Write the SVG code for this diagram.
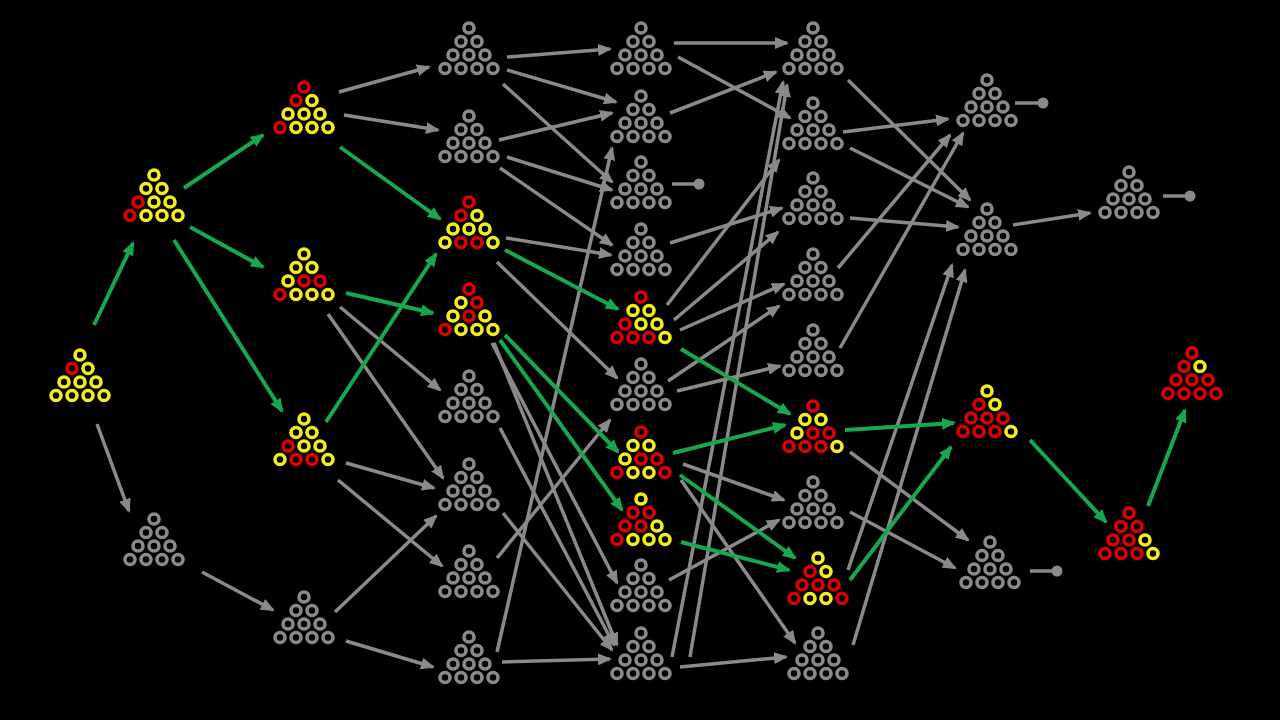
<svg xmlns="http://www.w3.org/2000/svg" xmlns:xlink="http://www.w3.org/1999/xlink" width="1280" height="720" viewBox="0 0 1280 720">
<style>
circle{fill:none;stroke-width:3.6}
.g{stroke:#8a8a8a}.y{stroke:#f4ee1a}.r{stroke:#dc0000}
.eg{stroke:#8a8a8a;stroke-width:3.5;fill:none}
.ee{stroke:#17a84f;stroke-width:4;fill:none}
.dot{fill:#8a8a8a}
</style>
<defs>
<marker id="ag" markerWidth="14" markerHeight="12" refX="12" refY="6" orient="auto" markerUnits="userSpaceOnUse"><path d="M0,0L14,6L0,12z" fill="#8a8a8a"/></marker>
<marker id="ae" markerWidth="14" markerHeight="12" refX="12" refY="6" orient="auto" markerUnits="userSpaceOnUse"><path d="M0,0L14,6L0,12z" fill="#17a84f"/></marker>
<g id="tri">
<circle class="g" cx="0" cy="0" r="5"/><circle class="g" cx="-8" cy="13.5" r="5"/><circle class="g" cx="8" cy="13.5" r="5"/><circle class="g" cx="-16" cy="27" r="5"/><circle class="g" cx="0" cy="27" r="5"/><circle class="g" cx="16" cy="27" r="5"/><circle class="g" cx="-24" cy="40.5" r="5"/><circle class="g" cx="-8" cy="40.5" r="5"/><circle class="g" cx="8" cy="40.5" r="5"/><circle class="g" cx="24" cy="40.5" r="5"/>
</g>
</defs>
<rect width="1280" height="720" fill="#000"/>
<g id="connectors">
<g marker-end="url(#ag)" class="eg">
<line x1="97" y1="424" x2="129" y2="511"/>
<line x1="202" y1="572" x2="273" y2="610"/>
<line x1="335" y1="612" x2="436" y2="516"/>
<line x1="346" y1="641" x2="433" y2="667"/>
<line x1="339" y1="92" x2="429" y2="67"/>
<line x1="344" y1="115" x2="438" y2="130"/>
<line x1="340" y1="307" x2="440" y2="390"/>
<line x1="328" y1="314" x2="443" y2="478"/>
<line x1="346" y1="463" x2="434" y2="488"/>
<line x1="338" y1="480" x2="442" y2="566"/>
<line x1="507" y1="57" x2="610" y2="49"/>
<line x1="507" y1="70" x2="616" y2="102"/>
<line x1="503" y1="84" x2="612" y2="182"/>
<line x1="499" y1="140" x2="612" y2="113"/>
<line x1="507" y1="157" x2="612" y2="190"/>
<line x1="500" y1="168" x2="612" y2="245"/>
<line x1="506" y1="238" x2="611" y2="255"/>
<line x1="497" y1="262" x2="617" y2="378"/>
<line x1="492" y1="343" x2="617" y2="583"/>
<line x1="494" y1="343" x2="617" y2="645"/>
<line x1="500" y1="428" x2="614" y2="645"/>
<line x1="497" y1="558" x2="610" y2="420"/>
<line x1="503" y1="513" x2="612" y2="650"/>
<line x1="497" y1="652" x2="612" y2="148"/>
<line x1="502" y1="662" x2="610" y2="659"/>
<line x1="674" y1="43" x2="787" y2="43"/>
<line x1="678" y1="57" x2="790" y2="118"/>
<line x1="670" y1="113" x2="776" y2="72"/>
<line x1="670" y1="243" x2="782" y2="208"/>
<line x1="667" y1="305" x2="779" y2="160"/>
<line x1="674" y1="320" x2="778" y2="232"/>
<line x1="680" y1="330" x2="784" y2="284"/>
<line x1="668" y1="381" x2="779" y2="306"/>
<line x1="677" y1="391" x2="780" y2="366"/>
<line x1="683" y1="464" x2="784" y2="500"/>
<line x1="669" y1="580" x2="779" y2="520"/>
<line x1="680" y1="667" x2="786" y2="657"/>
<line x1="681" y1="480" x2="795" y2="643"/>
<line x1="672" y1="657" x2="783" y2="82"/>
<line x1="690" y1="657" x2="787" y2="85"/>
<line x1="843" y1="132" x2="948" y2="119"/>
<line x1="850" y1="148" x2="968" y2="207"/>
<line x1="848" y1="80" x2="970" y2="200"/>
<line x1="850" y1="218" x2="958" y2="227"/>
<line x1="838" y1="268" x2="950" y2="135"/>
<line x1="840" y1="348" x2="963" y2="133"/>
<line x1="850" y1="452" x2="968" y2="540"/>
<line x1="850" y1="512" x2="955" y2="568"/>
<line x1="848" y1="570" x2="952" y2="265"/>
<line x1="853" y1="645" x2="965" y2="270"/>
<line x1="1013" y1="225" x2="1090" y2="213"/>
</g>
<g class="eg">
<line x1="672" y1="184" x2="699" y2="184"/><circle class="dot" cx="699" cy="184" r="5.5" style="stroke:none"/>
<line x1="1015" y1="103" x2="1043" y2="103"/><circle class="dot" cx="1043" cy="103" r="5.5" style="stroke:none"/>
<line x1="1030" y1="571" x2="1057" y2="571"/><circle class="dot" cx="1057" cy="571" r="5.5" style="stroke:none"/>
<line x1="1163" y1="196" x2="1190" y2="196"/><circle class="dot" cx="1190" cy="196" r="5.5" style="stroke:none"/>
</g>
<g marker-end="url(#ae)" class="ee">
<line x1="94" y1="325" x2="133" y2="243"/>
<line x1="184" y1="188" x2="263" y2="135"/>
<line x1="190" y1="227" x2="263" y2="267"/>
<line x1="174" y1="240" x2="282" y2="411"/>
<line x1="340" y1="147" x2="440" y2="219"/>
<line x1="346" y1="293" x2="433" y2="313"/>
<line x1="326" y1="422" x2="436" y2="254"/>
<line x1="505" y1="335" x2="618" y2="452"/>
<line x1="500" y1="340" x2="622" y2="510"/>
<line x1="505" y1="250" x2="618" y2="309"/>
<line x1="681" y1="349" x2="790" y2="414"/>
<line x1="673" y1="453" x2="785" y2="425"/>
<line x1="680" y1="475" x2="795" y2="558"/>
<line x1="681" y1="542" x2="789" y2="570"/>
<line x1="845" y1="430" x2="954" y2="423"/>
<line x1="850" y1="580" x2="951" y2="447"/>
<line x1="1030" y1="440" x2="1106" y2="522"/>
<line x1="1148" y1="506" x2="1185" y2="410"/>
</g>
</g>
<g id="nodes">
<g id="n1" transform="translate(80,355)"><circle class="y" cx="0" cy="0" r="5"/><circle class="r" cx="-8" cy="13.5" r="5"/><circle class="y" cx="8" cy="13.5" r="5"/><circle class="y" cx="-16" cy="27" r="5"/><circle class="y" cx="0" cy="27" r="5"/><circle class="y" cx="16" cy="27" r="5"/><circle class="y" cx="-24" cy="40.5" r="5"/><circle class="y" cx="-8" cy="40.5" r="5"/><circle class="y" cx="8" cy="40.5" r="5"/><circle class="y" cx="24" cy="40.5" r="5"/></g>
<g id="n2" transform="translate(154,175)"><circle class="y" cx="0" cy="0" r="5"/><circle class="y" cx="-8" cy="13.5" r="5"/><circle class="y" cx="8" cy="13.5" r="5"/><circle class="r" cx="-16" cy="27" r="5"/><circle class="y" cx="0" cy="27" r="5"/><circle class="y" cx="16" cy="27" r="5"/><circle class="r" cx="-24" cy="40.5" r="5"/><circle class="y" cx="-8" cy="40.5" r="5"/><circle class="y" cx="8" cy="40.5" r="5"/><circle class="y" cx="24" cy="40.5" r="5"/></g>
<g id="n3" transform="translate(304,87)"><circle class="r" cx="0" cy="0" r="5"/><circle class="r" cx="-8" cy="13.5" r="5"/><circle class="y" cx="8" cy="13.5" r="5"/><circle class="y" cx="-16" cy="27" r="5"/><circle class="y" cx="0" cy="27" r="5"/><circle class="y" cx="16" cy="27" r="5"/><circle class="r" cx="-24" cy="40.5" r="5"/><circle class="y" cx="-8" cy="40.5" r="5"/><circle class="y" cx="8" cy="40.5" r="5"/><circle class="y" cx="24" cy="40.5" r="5"/></g>
<g id="n4" transform="translate(304,254)"><circle class="y" cx="0" cy="0" r="5"/><circle class="y" cx="-8" cy="13.5" r="5"/><circle class="y" cx="8" cy="13.5" r="5"/><circle class="y" cx="-16" cy="27" r="5"/><circle class="r" cx="0" cy="27" r="5"/><circle class="r" cx="16" cy="27" r="5"/><circle class="r" cx="-24" cy="40.5" r="5"/><circle class="y" cx="-8" cy="40.5" r="5"/><circle class="y" cx="8" cy="40.5" r="5"/><circle class="y" cx="24" cy="40.5" r="5"/></g>
<g id="n5" transform="translate(304,419)"><circle class="y" cx="0" cy="0" r="5"/><circle class="y" cx="-8" cy="13.5" r="5"/><circle class="y" cx="8" cy="13.5" r="5"/><circle class="r" cx="-16" cy="27" r="5"/><circle class="y" cx="0" cy="27" r="5"/><circle class="y" cx="16" cy="27" r="5"/><circle class="y" cx="-24" cy="40.5" r="5"/><circle class="r" cx="-8" cy="40.5" r="5"/><circle class="r" cx="8" cy="40.5" r="5"/><circle class="y" cx="24" cy="40.5" r="5"/></g>
<g id="n6"><use xlink:href="#tri" x="154" y="519"/></g>
<g id="n7"><use xlink:href="#tri" x="304" y="597"/></g>
<g id="n8"><use xlink:href="#tri" x="469" y="28"/></g>
<g id="n9"><use xlink:href="#tri" x="469" y="116"/></g>
<g id="n10" transform="translate(469,202)"><circle class="r" cx="0" cy="0" r="5"/><circle class="r" cx="-8" cy="13.5" r="5"/><circle class="y" cx="8" cy="13.5" r="5"/><circle class="y" cx="-16" cy="27" r="5"/><circle class="y" cx="0" cy="27" r="5"/><circle class="y" cx="16" cy="27" r="5"/><circle class="y" cx="-24" cy="40.5" r="5"/><circle class="r" cx="-8" cy="40.5" r="5"/><circle class="r" cx="8" cy="40.5" r="5"/><circle class="y" cx="24" cy="40.5" r="5"/></g>
<g id="n11" transform="translate(469,289)"><circle class="r" cx="0" cy="0" r="5"/><circle class="y" cx="-8" cy="13.5" r="5"/><circle class="r" cx="8" cy="13.5" r="5"/><circle class="y" cx="-16" cy="27" r="5"/><circle class="r" cx="0" cy="27" r="5"/><circle class="y" cx="16" cy="27" r="5"/><circle class="r" cx="-24" cy="40.5" r="5"/><circle class="y" cx="-8" cy="40.5" r="5"/><circle class="y" cx="8" cy="40.5" r="5"/><circle class="y" cx="24" cy="40.5" r="5"/></g>
<g id="n12"><use xlink:href="#tri" x="469" y="376"/></g>
<g id="n13"><use xlink:href="#tri" x="469" y="464"/></g>
<g id="n14"><use xlink:href="#tri" x="469" y="551"/></g>
<g id="n15"><use xlink:href="#tri" x="469" y="637"/></g>
<g id="n16"><use xlink:href="#tri" x="641" y="28"/></g>
<g id="n17"><use xlink:href="#tri" x="641" y="96"/></g>
<g id="n18"><use xlink:href="#tri" x="641" y="162"/></g>
<g id="n19"><use xlink:href="#tri" x="641" y="229"/></g>
<g id="n20" transform="translate(641,297)"><circle class="r" cx="0" cy="0" r="5"/><circle class="y" cx="-8" cy="13.5" r="5"/><circle class="y" cx="8" cy="13.5" r="5"/><circle class="r" cx="-16" cy="27" r="5"/><circle class="y" cx="0" cy="27" r="5"/><circle class="y" cx="16" cy="27" r="5"/><circle class="r" cx="-24" cy="40.5" r="5"/><circle class="r" cx="-8" cy="40.5" r="5"/><circle class="r" cx="8" cy="40.5" r="5"/><circle class="y" cx="24" cy="40.5" r="5"/></g>
<g id="n21"><use xlink:href="#tri" x="641" y="364"/></g>
<g id="n22" transform="translate(641,432)"><circle class="r" cx="0" cy="0" r="5"/><circle class="y" cx="-8" cy="13.5" r="5"/><circle class="y" cx="8" cy="13.5" r="5"/><circle class="y" cx="-16" cy="27" r="5"/><circle class="r" cx="0" cy="27" r="5"/><circle class="r" cx="16" cy="27" r="5"/><circle class="r" cx="-24" cy="40.5" r="5"/><circle class="y" cx="-8" cy="40.5" r="5"/><circle class="y" cx="8" cy="40.5" r="5"/><circle class="r" cx="24" cy="40.5" r="5"/></g>
<g id="n23" transform="translate(641,499)"><circle class="y" cx="0" cy="0" r="5"/><circle class="r" cx="-8" cy="13.5" r="5"/><circle class="r" cx="8" cy="13.5" r="5"/><circle class="r" cx="-16" cy="27" r="5"/><circle class="r" cx="0" cy="27" r="5"/><circle class="y" cx="16" cy="27" r="5"/><circle class="r" cx="-24" cy="40.5" r="5"/><circle class="y" cx="-8" cy="40.5" r="5"/><circle class="y" cx="8" cy="40.5" r="5"/><circle class="y" cx="24" cy="40.5" r="5"/></g>
<g id="n24"><use xlink:href="#tri" x="641" y="565"/></g>
<g id="n25"><use xlink:href="#tri" x="641" y="633"/></g>
<g id="n26"><use xlink:href="#tri" x="813" y="28"/></g>
<g id="n27"><use xlink:href="#tri" x="813" y="103"/></g>
<g id="n28"><use xlink:href="#tri" x="813" y="178"/></g>
<g id="n29"><use xlink:href="#tri" x="813" y="254"/></g>
<g id="n30"><use xlink:href="#tri" x="813" y="330"/></g>
<g id="n31" transform="translate(813,406)"><circle class="r" cx="0" cy="0" r="5"/><circle class="y" cx="-8" cy="13.5" r="5"/><circle class="y" cx="8" cy="13.5" r="5"/><circle class="y" cx="-16" cy="27" r="5"/><circle class="r" cx="0" cy="27" r="5"/><circle class="r" cx="16" cy="27" r="5"/><circle class="r" cx="-24" cy="40.5" r="5"/><circle class="r" cx="-8" cy="40.5" r="5"/><circle class="r" cx="8" cy="40.5" r="5"/><circle class="y" cx="24" cy="40.5" r="5"/></g>
<g id="n32"><use xlink:href="#tri" x="813" y="482"/></g>
<g id="n33" transform="translate(818,558)"><circle class="y" cx="0" cy="0" r="5"/><circle class="r" cx="-8" cy="13.5" r="5"/><circle class="y" cx="8" cy="13.5" r="5"/><circle class="r" cx="-16" cy="27" r="5"/><circle class="r" cx="0" cy="27" r="5"/><circle class="r" cx="16" cy="27" r="5"/><circle class="r" cx="-24" cy="40.5" r="5"/><circle class="y" cx="-8" cy="40.5" r="5"/><circle class="y" cx="8" cy="40.5" r="5"/><circle class="r" cx="24" cy="40.5" r="5"/></g>
<g id="n34"><use xlink:href="#tri" x="818" y="633"/></g>
<g id="n35"><use xlink:href="#tri" x="987" y="80"/></g>
<g id="n36"><use xlink:href="#tri" x="987" y="209"/></g>
<g id="n37" transform="translate(987,391)"><circle class="y" cx="0" cy="0" r="5"/><circle class="r" cx="-8" cy="13.5" r="5"/><circle class="y" cx="8" cy="13.5" r="5"/><circle class="r" cx="-16" cy="27" r="5"/><circle class="r" cx="0" cy="27" r="5"/><circle class="r" cx="16" cy="27" r="5"/><circle class="r" cx="-24" cy="40.5" r="5"/><circle class="r" cx="-8" cy="40.5" r="5"/><circle class="r" cx="8" cy="40.5" r="5"/><circle class="y" cx="24" cy="40.5" r="5"/></g>
<g id="n38"><use xlink:href="#tri" x="990" y="542"/></g>
<g id="n39"><use xlink:href="#tri" x="1129" y="172"/></g>
<g id="n40" transform="translate(1129,513)"><circle class="r" cx="0" cy="0" r="5"/><circle class="r" cx="-8" cy="13.5" r="5"/><circle class="r" cx="8" cy="13.5" r="5"/><circle class="r" cx="-16" cy="27" r="5"/><circle class="r" cx="0" cy="27" r="5"/><circle class="y" cx="16" cy="27" r="5"/><circle class="r" cx="-24" cy="40.5" r="5"/><circle class="r" cx="-8" cy="40.5" r="5"/><circle class="r" cx="8" cy="40.5" r="5"/><circle class="y" cx="24" cy="40.5" r="5"/></g>
<g id="n41" transform="translate(1192,353)"><circle class="r" cx="0" cy="0" r="5"/><circle class="r" cx="-8" cy="13.5" r="5"/><circle class="y" cx="8" cy="13.5" r="5"/><circle class="r" cx="-16" cy="27" r="5"/><circle class="r" cx="0" cy="27" r="5"/><circle class="r" cx="16" cy="27" r="5"/><circle class="r" cx="-24" cy="40.5" r="5"/><circle class="r" cx="-8" cy="40.5" r="5"/><circle class="r" cx="8" cy="40.5" r="5"/><circle class="r" cx="24" cy="40.5" r="5"/></g>
</g>
</svg>
